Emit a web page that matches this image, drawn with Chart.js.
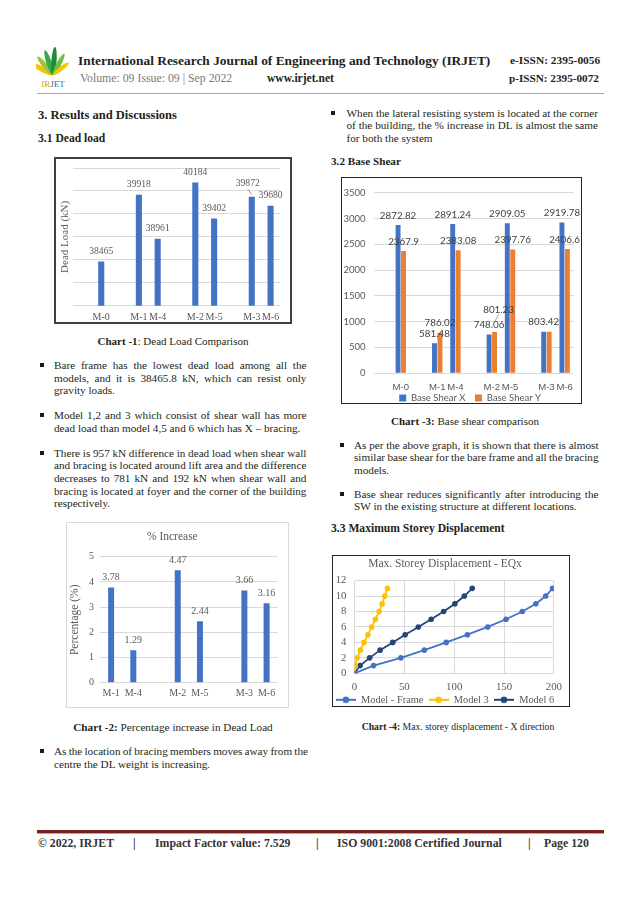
<!DOCTYPE html>
<html>
<head>
<meta charset="utf-8">
<script src="https://cdn.jsdelivr.net/npm/chart.js@4.4.1/dist/chart.umd.min.js"></script>
<style>
  body { margin: 0; background: #fff; }
  #page { position: relative; width: 638px; height: 902px; overflow: hidden; font-family: "Liberation Serif", serif; color: #231f20; }
  .abs { position: absolute; white-space: nowrap; }
  .line { position: absolute; height: 13px; line-height: 13px; font-size: 11.2px; white-space: nowrap; }
  .line.j { display: flex; justify-content: space-between; }
  .bul { position: absolute; width: 4px; height: 4px; background: #1a1a1a; }
  .h { position: absolute; font-weight: bold; white-space: nowrap; }
  .cap { position: absolute; width: 320px; text-align: center; white-space: nowrap; font-size: 11px; }
  .frame { position: absolute; box-sizing: border-box; }
  canvas { position: absolute; }
</style>
</head>
<body>
<div id="page">
  <!-- header -->
  <svg class="abs" style="left:36px;top:45px" width="34" height="44" viewBox="0 0 34 44">
    <g transform="translate(17,30)">
      <ellipse cx="0" cy="-12" rx="2.6" ry="12" fill="#f2c500" transform="rotate(-62)"/>
      <ellipse cx="0" cy="-12" rx="2.6" ry="12" fill="#9bc53d" transform="rotate(-40)"/>
      <ellipse cx="0" cy="-13" rx="2.6" ry="13" fill="#3aa845" transform="rotate(-18)"/>
      <ellipse cx="0" cy="-14" rx="2.6" ry="14" fill="#1e8a3c" transform="rotate(4)"/>
      <ellipse cx="0" cy="-12" rx="2.4" ry="12" fill="#6cbf3f" transform="rotate(28)"/>
      <ellipse cx="0" cy="-10" rx="2.2" ry="10" fill="#f2c500" transform="rotate(52)"/>
    </g>
    <text x="17" y="42" text-anchor="middle" font-family="Liberation Serif" font-size="9" fill="#2c6fa8"><tspan fill="#d4a800">IR</tspan>JET</text>
  </svg>
  <div class="h" style="left:78px;top:53px;font-size:13.4px;">International Research Journal of Engineering and Technology (IRJET)</div>
  <div class="h" style="left:510px;top:54px;font-size:11.4px;">e-ISSN: 2395-0056</div>
  <div class="abs" style="left:80px;top:71px;font-size:11.8px;color:#7a7a7a;">Volume: 09 Issue: 09 | Sep 2022</div>
  <div class="h" style="left:267px;top:72px;font-size:11.6px;">www.irjet.net</div>
  <div class="h" style="left:509px;top:72px;font-size:11.2px;">p-ISSN: 2395-0072</div>
  <div class="abs" style="left:37px;top:93px;width:567px;height:1px;background:#a6a6a6;"></div>

  <!-- left column -->
  <div class="h" style="left:38px;top:108px;font-size:12.5px;">3. Results and Discussions</div>
  <div class="h" style="left:38px;top:132px;font-size:11.6px;">3.1 Dead load</div>

  <div class="frame" style="left:54px;top:157px;width:238px;height:167px;border:2px solid #404040;"></div>
  <canvas id="c1" width="234" height="163" style="left:56px;top:159px;width:234px;height:163px;"></canvas>
  <div class="cap" style="left:13px;top:335px;"><b>Chart -1</b>: Dead Load Comparison</div>

  <div class="frame" style="left:66px;top:522px;width:223px;height:186px;border:1px solid #d9d9d9;"></div>
  <canvas id="c2" width="221" height="184" style="left:67px;top:523px;width:221px;height:184px;"></canvas>
  <div class="cap" style="left:13px;top:721px;font-size:11.2px;"><b>Chart -2:</b> Percentage increase in Dead Load</div>

  <!-- right column -->
  <div class="h" style="left:331px;top:155px;font-size:11.2px;">3.2 Base Shear</div>
  <div class="frame" style="left:341px;top:177px;width:241px;height:227px;border:1.5px solid #262626;"></div>
  <canvas id="c3" width="238" height="224" style="left:342.5px;top:178.5px;width:238px;height:224px;"></canvas>
  <div class="cap" style="left:305px;top:415px;"><b>Chart -3:</b> Base shear comparison</div>

  <div class="h" style="left:331px;top:522px;font-size:11.6px;">3.3 Maximum Storey Displacement</div>
  <div class="frame" style="left:332px;top:555px;width:238px;height:152px;border:1.5px solid #262626;"></div>
  <canvas id="c4" width="235" height="149" style="left:333.5px;top:556.5px;width:235px;height:149px;"></canvas>
  <div class="cap" style="left:298px;top:721px;font-size:9.7px;"><b>Chart -4:</b> Max. storey displacement - X direction</div>

  <!-- footer -->
  <div class="abs" style="left:37px;top:830px;width:567px;height:3px;background:#7b1e1e;"></div>
  <div class="abs" style="left:37px;top:833px;width:567px;height:1px;background:#c9a0a0;"></div>
  <div class="h" style="left:38px;top:836px;font-size:11.8px;color:#333;">© 2022, IRJET</div>
  <div class="h" style="left:133px;top:836px;font-size:11.8px;color:#333;">|</div>
  <div class="h" style="left:155px;top:836px;font-size:11.8px;color:#333;">Impact Factor value: 7.529</div>
  <div class="h" style="left:316px;top:836px;font-size:11.8px;color:#333;">|</div>
  <div class="h" style="left:337px;top:836px;font-size:11.8px;color:#333;">ISO 9001:2008 Certified Journal</div>
  <div class="h" style="left:528px;top:836px;font-size:11.8px;color:#333;">|</div>
  <div class="h" style="left:544px;top:836px;font-size:11.8px;color:#333;">Page 120</div>
</div>

<script>
// ---- chart data ----
const deadLabels = ["", "M-0", "", "M-1", "M-4", "", "M-2", "M-5", "", "M-3", "M-6"];
const deadLoad = [null, 38465, null, 39918, 38961, null, 40184, 39402, null, 39872, 39680];

const incLabels = ["M-1", "M-4", "", "M-2", "M-5", "", "M-3", "M-6"];
const incValues = [3.78, 1.29, null, 4.47, 2.44, null, 3.66, 3.16];

const shearLabels = ["", "M-0", "", "M-1", "M-4", "", "M-2", "M-5", "", "M-3", "M-6"];
const shearX = [null, 2872.82, null, 581.48, 2891.24, null, 748.06, 2909.05, null, 803.42, 2919.78];
const shearY = [null, 2367.9, null, 786.02, 2383.08, null, 801.23, 2397.76, null, 803.42, 2406.61];

const storeys = [0, 1, 2, 3, 4, 5, 6, 7, 8, 9, 10, 11];
const dispFrame = [0, 19.1, 46.5, 70, 92, 113.2, 133.7, 152, 168.3, 181.9, 191.8, 198.7];
const dispM3 = [0, 0.8, 2.7, 5.9, 9.6, 13.5, 17.2, 21, 24.7, 27.7, 30.4, 33];
const dispM6 = [0, 5.6, 15.2, 25.7, 38.3, 50.8, 64, 76.9, 89.4, 100.7, 110.2, 118.1];

// ---- text blocks ----
function para(left, right, bulletX, y0, lines) {
  const page = document.getElementById("page");
  const b = document.createElement("div");
  b.className = "bul";
  b.style.left = bulletX + "px";
  b.style.top = (y0 - 2.5) + "px";
  page.appendChild(b);
  lines.forEach((t, i) => {
    const d = document.createElement("div");
    const last = i === lines.length - 1;
    d.className = last ? "line" : "line j";
    d.style.left = left + "px";
    d.style.top = (y0 - 6.5 + i * 12.6) + "px";
    if (!last) {
      d.style.width = (right - left) + "px";
      t.split(" ").forEach(w => {
        const s = document.createElement("span");
        s.textContent = w;
        d.appendChild(s);
      });
    } else {
      d.textContent = t;
    }
    page.appendChild(d);
  });
}

para(54, 306.5, 40, 365.7, [
  "Bare frame has the lowest dead load among all the",
  "models, and it is 38465.8 kN, which can resist only",
  "gravity loads."
]);
para(54, 306.5, 40, 415.5, [
  "Model 1,2 and 3 which consist of shear wall has more",
  "dead load than model 4,5 and 6 which has X \u2013 bracing."
]);
para(54, 306.5, 40, 453.3, [
  "There is 957 kN difference in dead load when shear wall",
  "and bracing is located around lift area and the difference",
  "decreases to 781 kN and 192 kN when shear wall and",
  "bracing is located at foyer and the corner of the building",
  "respectively."
]);
para(54, 308, 40, 751.5, [
  "As the location of bracing members moves away from the",
  "centre the DL weight is increasing."
]);
para(346.5, 598, 331, 113.3, [
  "When the lateral resisting system is located at the corner",
  "of the building, the % increase in DL is almost the same",
  "for both the system"
]);
para(354, 598.5, 339.5, 445.3, [
  "As per the above graph, it is shown that there is almost",
  "similar base shear for the bare frame and all the bracing",
  "models."
]);
para(354, 598.5, 339.5, 494, [
  "Base shear reduces significantly after introducing the",
  "SW in the existing structure at different locations."
]);

// ---- charts ----
const SERIF = "'Liberation Serif', serif";
const SANS = "Lato, 'Liberation Sans', sans-serif";
const NARROW = "'Liberation Sans Narrow', 'Arial Narrow', sans-serif";
const GREY = "#595959";
const GRID = "#d9d9d9";

const valueLabels = {
  id: "valueLabels",
  afterDatasetsDraw(chart, args, opts) {
    const ctx = chart.ctx;
    ctx.save();
    ctx.font = opts.font;
    ctx.textAlign = "center";
    ctx.textBaseline = "middle";
    chart.data.datasets.forEach((ds, di) => {
      chart.getDatasetMeta(di).data.forEach((el, i) => {
        const v = ds.data[i];
        const key = di + ":" + i;
        if (v == null || (opts.hide || []).includes(key)) return;
        const [dx, dy] = (opts.shift || {})[key] || [0, 0];
        const x = el.x + dx;
        const y = el.y - opts.gap + dy;
        if (dx || dy) {
          ctx.strokeStyle = "#8c8c8c";
          ctx.lineWidth = 0.8;
          ctx.beginPath();
          ctx.moveTo(x, y + 5);
          ctx.lineTo(el.x, el.y - (opts.leaderGap || 2));
          ctx.stroke();
        }
        ctx.fillStyle = opts.color;
        ctx.fillText(String(v), x, y);
      });
    });
    ctx.restore();
  }
};

// legend text with a little trailing room (label padding is kept at 0 so the legend sits low)
const spacedLabels = (extra, gap, tail = "") => chart => {
  const items = Chart.defaults.plugins.legend.labels.generateLabels(chart);
  return items.map((l, i) => Object.assign(l, extra(l), { text: l.text + (i < items.length - 1 ? gap : tail) }));
};

Chart.defaults.animation = false;
Chart.defaults.responsive = false;
Chart.defaults.plugins.tooltip.enabled = false;

// Chart 1: dead load
new Chart(document.getElementById("c1"), {
  type: "bar",
  data: {
    labels: deadLabels,
    datasets: [{ data: deadLoad, backgroundColor: "#4472c4", barPercentage: 0.9, categoryPercentage: 0.36 }]
  },
  options: {
    layout: { padding: { top: 9, right: 10, left: 0, bottom: 0 } },
    plugins: {
      legend: { display: false },
      valueLabels: { font: "9.6px " + SERIF, color: GREY, gap: 10, shift: { "0:9": [-4, -3] } }
    },
    scales: {
      x: {
        grid: { display: false, drawTicks: false },
        border: { display: false },
        ticks: { color: GREY, font: { family: SERIF, size: 10 }, padding: 6, autoSkip: false, maxRotation: 0 },
        afterFit: s => { s.height = 16.3; }
      },
      y: {
        min: 37500, max: 40500,
        ticks: { stepSize: 500, display: false },
        grid: { color: GRID, drawTicks: false },
        border: { display: false },
        title: { display: true, text: "Dead Load (kN)", color: GREY, font: { family: SERIF, size: 11 }, padding: { top: 3, bottom: 0 } },
        afterFit: s => { s.width = 17; }
      }
    }
  },
  plugins: [valueLabels]
});

// Chart 2: % increase
new Chart(document.getElementById("c2"), {
  type: "bar",
  data: {
    labels: incLabels,
    datasets: [{ data: incValues, backgroundColor: "#4472c4", barPercentage: 0.9, categoryPercentage: 0.3 }]
  },
  options: {
    layout: { padding: { top: 0, right: 10.3, left: 0, bottom: 0 } },
    plugins: {
      legend: { display: false },
      title: { display: true, text: "% Increase", color: GREY, font: { family: SERIF, size: 11.5, weight: "normal" }, padding: { top: 7, bottom: 13 } },
      valueLabels: { font: "10px " + SERIF, color: GREY, gap: 10 }
    },
    scales: {
      x: {
        grid: { display: false, drawTicks: false },
        border: { display: false },
        ticks: { color: GREY, font: { family: SERIF, size: 10 }, padding: 5, autoSkip: false, maxRotation: 0 },
        afterFit: s => { s.height = 24.3; }
      },
      y: {
        min: 0, max: 5,
        ticks: { stepSize: 1, color: GREY, font: { family: SERIF, size: 10 }, padding: 6 },
        grid: { color: GRID, drawTicks: false },
        border: { display: false },
        title: { display: true, text: "Percentage (%)", color: GREY, font: { family: SERIF, size: 11.5 }, padding: { top: 1, bottom: 0 } },
        afterFit: s => { s.width = 33; }
      }
    }
  },
  plugins: [valueLabels]
});

// Chart 3: base shear
new Chart(document.getElementById("c3"), {
  type: "bar",
  data: {
    labels: shearLabels,
    datasets: [
      { label: "Base Shear X", data: shearX, backgroundColor: "#4472c4", barPercentage: 0.9, categoryPercentage: 0.6 },
      { label: "Base Shear Y", data: shearY, backgroundColor: "#ed7d31", barPercentage: 0.9, categoryPercentage: 0.6 }
    ]
  },
  options: {
    layout: { padding: { top: 13.5, right: 2, left: 0, bottom: 0 } },
    plugins: {
      legend: {
        position: "bottom",
        align: "end",
        maxHeight: 9.8,
        labels: {
          color: GREY, font: { family: SANS, size: 9.5 }, boxWidth: 7, boxHeight: 7, padding: 0,
          generateLabels: spacedLabels(() => ({}), "\u2002\u2002", "\u2002".repeat(8))
        }
      },
      valueLabels: { font: "9.8px " + SANS, color: "#404040", gap: 9.5, hide: ["1:9"], shift: { "1:6": [4, -13] }, leaderGap: 10 }
    },
    scales: {
      x: {
        grid: { display: false, drawTicks: false },
        border: { display: false },
        ticks: { color: GREY, font: { family: NARROW, size: 9.6 }, padding: 8, autoSkip: false, maxRotation: 0 },
        afterFit: s => { s.height = 20; }
      },
      y: {
        min: 0, max: 3500,
        ticks: { stepSize: 500, color: GREY, font: { family: SANS, size: 9.5 }, padding: 8, callback: v => String(v) },
        grid: { color: GRID, drawTicks: false },
        border: { display: false },
        afterFit: s => { s.width = 30.5; }
      }
    }
  },
  plugins: [valueLabels]
});

// Chart 4: max storey displacement
function legendIcon(color) {
  const c = document.createElement("canvas");
  c.width = 20; c.height = 8;
  const g = c.getContext("2d");
  g.strokeStyle = color; g.lineWidth = 2;
  g.beginPath(); g.moveTo(0, 4); g.lineTo(20, 4); g.stroke();
  g.fillStyle = color;
  g.beginPath(); g.arc(10, 4, 3.3, 0, Math.PI * 2); g.fill();
  return c;
}
const dispSeries = [
  { label: "Model - Frame", values: dispFrame, color: "#4472c4" },
  { label: "Model 3", values: dispM3, color: "#ffc000" },
  { label: "Model 6", values: dispM6, color: "#264478" }
];
new Chart(document.getElementById("c4"), {
  type: "line",
  data: {
    datasets: dispSeries.map(s => ({
      label: s.label,
      data: storeys.map((st, i) => ({ x: s.values[i], y: st })),
      borderColor: s.color,
      backgroundColor: s.color,
      borderWidth: 1.8,
      pointRadius: 2.8,
      pointBorderWidth: 0,
      tension: 0
    }))
  },
  options: {
    layout: { padding: { top: 0, right: 13, left: 0, bottom: 0 } },
    plugins: {
      title: { display: true, text: "Max. Storey Displacement - EQx", color: GREY, font: { family: SERIF, size: 11.5, weight: "normal" }, padding: { top: 0.5, bottom: 9.3 } },
      legend: {
        position: "bottom",
        maxHeight: 11.4,
        labels: {
          color: GREY, font: { family: SERIF, size: 10.4 }, padding: 0, usePointStyle: true, pointStyleWidth: 20,
          generateLabels: spacedLabels(l => ({ pointStyle: legendIcon(dispSeries[l.datasetIndex].color) }), "  ")
        }
      }
    },
    scales: {
      x: {
        type: "linear", min: 0, max: 200,
        ticks: { stepSize: 50, color: GREY, font: { family: SERIF, size: 10.8 }, padding: 7 },
        grid: { color: GRID, drawTicks: false },
        border: { display: false },
        afterFit: s => { s.height = 21.3; }
      },
      y: {
        type: "linear", min: 0, max: 12,
        ticks: { stepSize: 2, color: GREY, font: { family: SERIF, size: 10.8 }, padding: 8, autoSkip: false },
        grid: { color: GRID, drawTicks: false },
        border: { display: false },
        afterFit: s => { s.width = 20.5; }
      }
    }
  }
});
</script>
</body>
</html>
